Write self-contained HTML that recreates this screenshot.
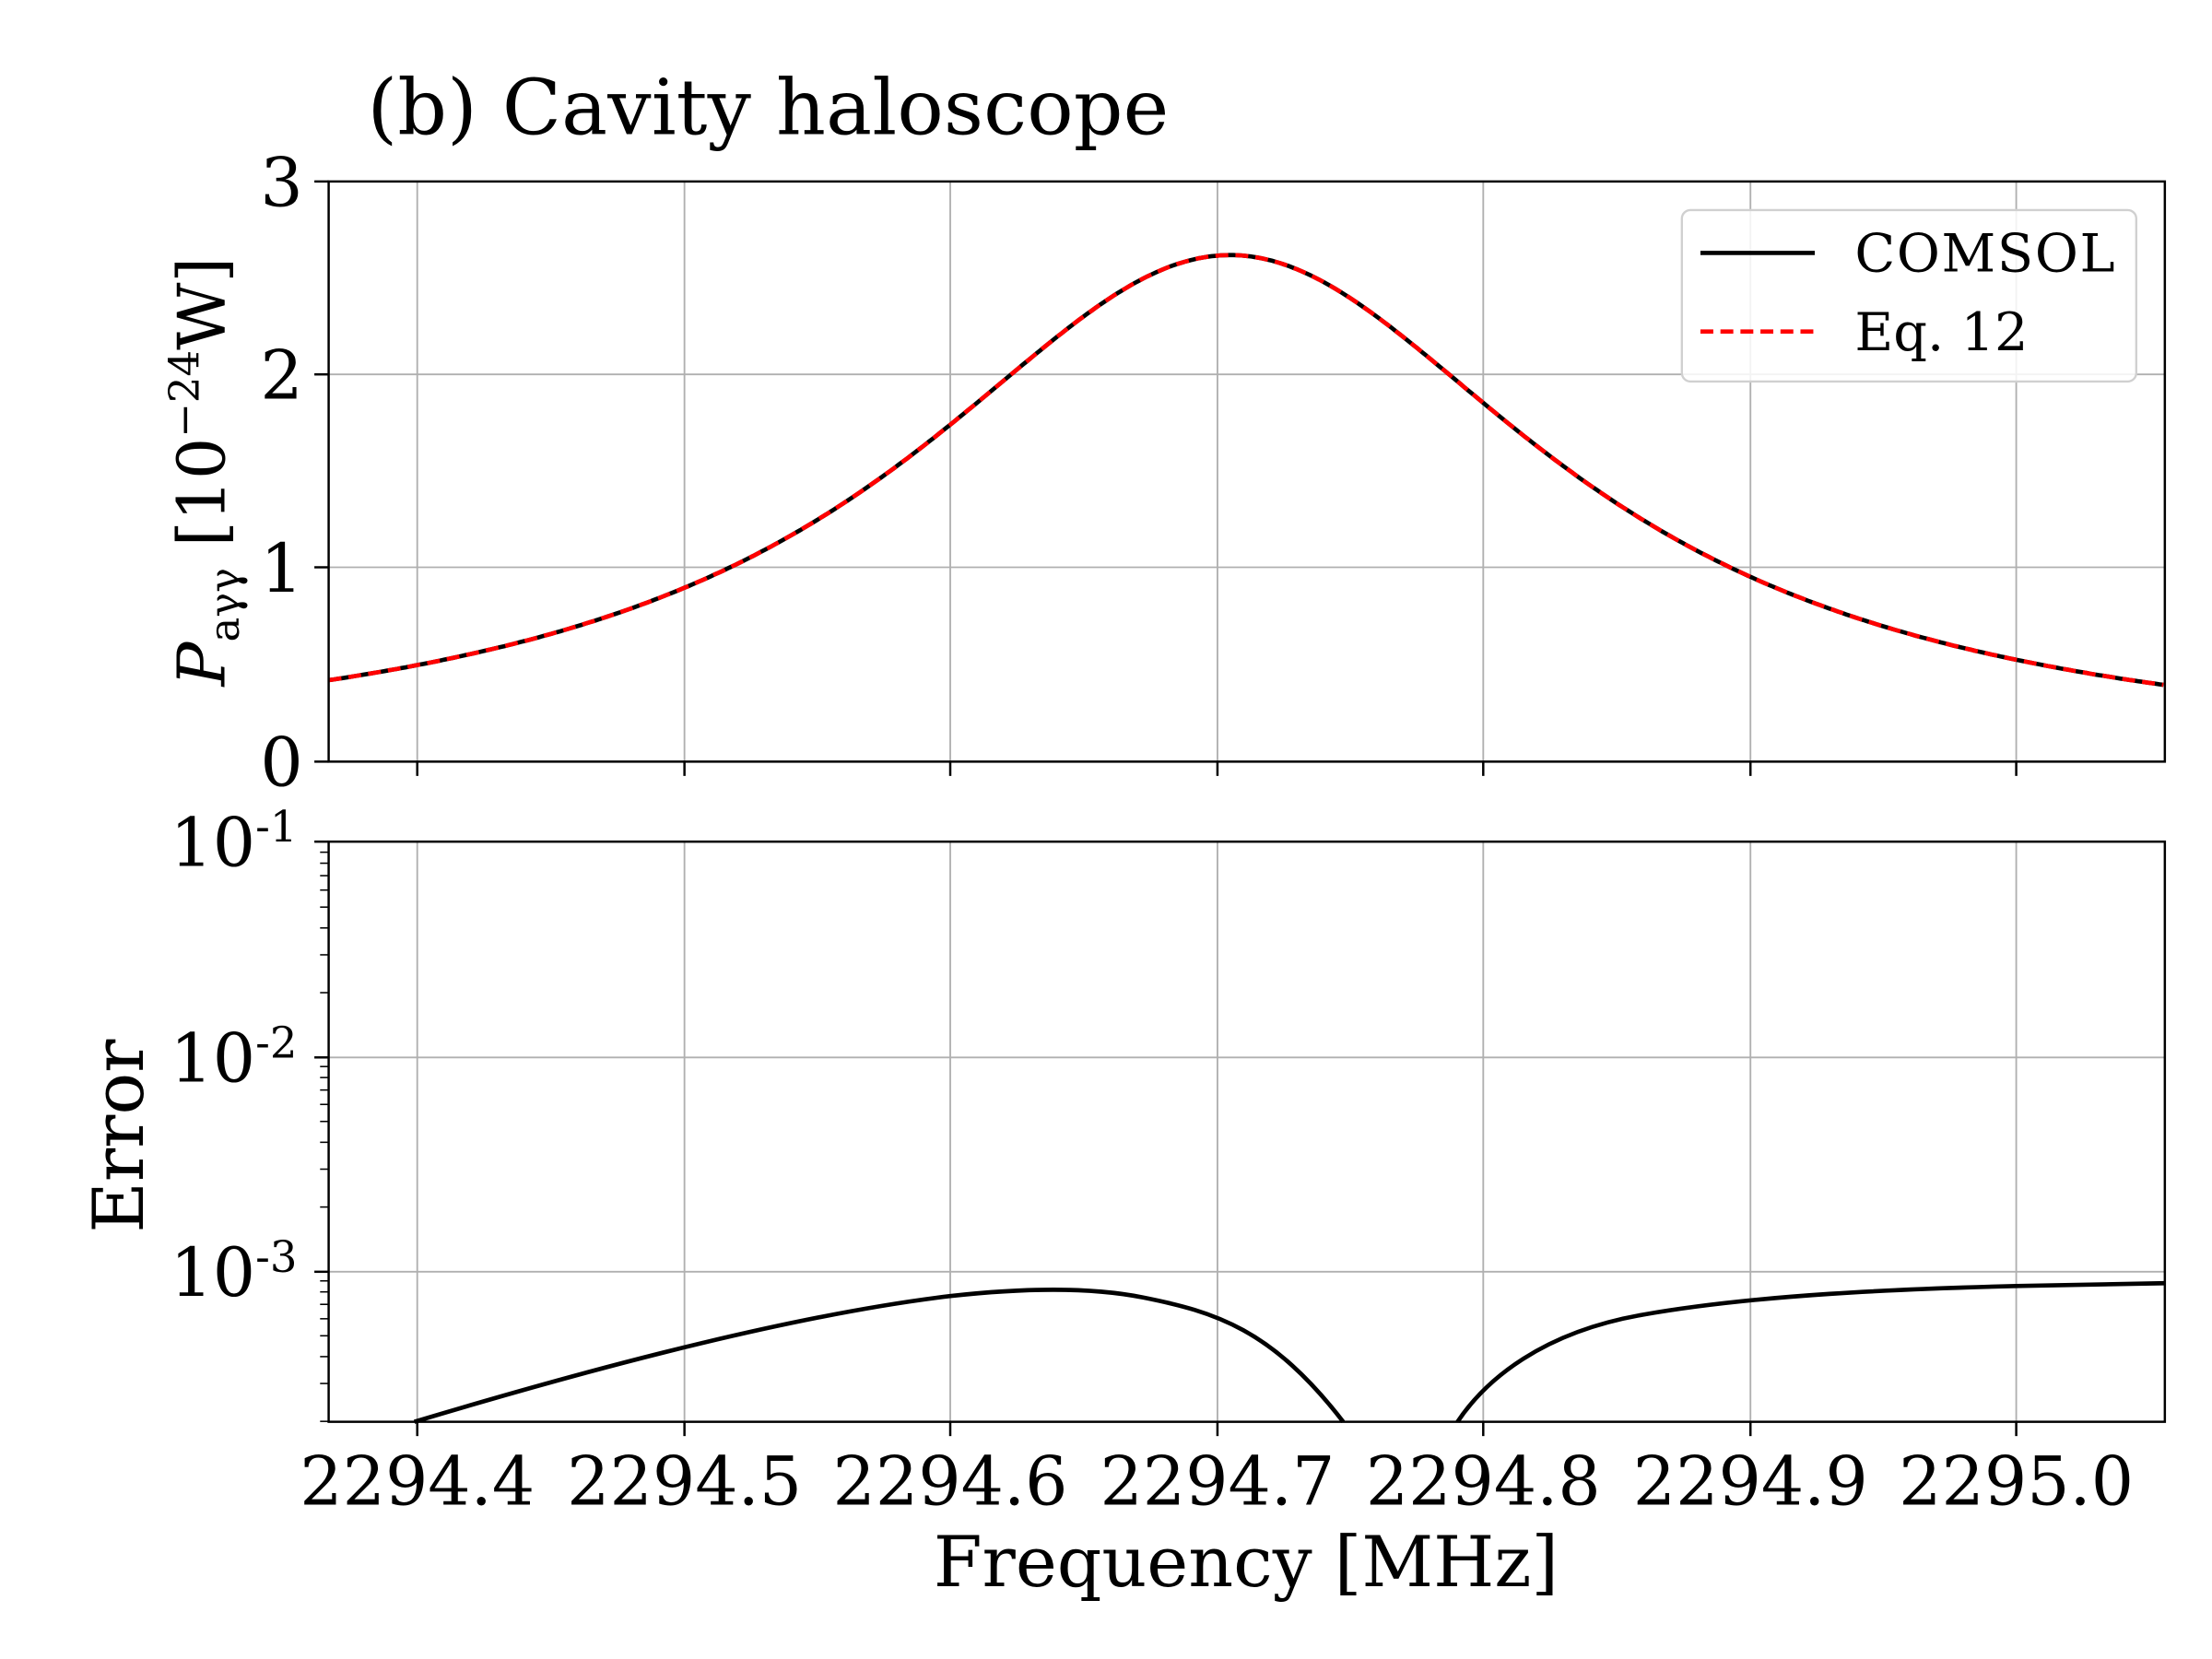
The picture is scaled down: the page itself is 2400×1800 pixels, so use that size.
<!DOCTYPE html>
<html><head><meta charset="utf-8"><style>html,body{margin:0;padding:0;background:#fff}svg{display:block}text{font-family:"DejaVu Serif","Liberation Serif",serif;fill:#000}</style></head>
<body>
<svg id="s" width="2400" height="1800" viewBox="0 0 1548 1161" preserveAspectRatio="none" xmlns="http://www.w3.org/2000/svg">
<g id="grid" stroke="#b0b0b0" stroke-width="1.2" fill="none"></g>
<path id="lor" fill="none" stroke="#000" stroke-width="3"/>
<path id="lor2" fill="none" stroke="#ff0000" stroke-width="3" stroke-dasharray="9,5"/>
<path d="M290,995 C380,968 540,922 665,907 C710,902 760,900 800,908 C850,918 890,930 940,995" fill="none" stroke="#000" stroke-width="3"/>
<path d="M1020,995 C1040,965 1080,932 1150,920 C1230,906 1330,902 1411,900 L1515,898" fill="none" stroke="#000" stroke-width="3"/>
<g id="ax" stroke="#000" stroke-width="1.6" fill="none">
<rect x="230" y="127" width="1285" height="406"/>
<rect x="230" y="589" width="1285" height="406"/>
</g>
<g id="ticks" stroke="#000" stroke-width="1.6"></g>
<g id="lbl" font-size="47"></g>
<rect x="1177" y="147" width="318" height="120" rx="6" fill="#fff" fill-opacity="0.85" stroke="#d0d0d0" stroke-width="1.5"/>
<line x1="1190" y1="177" x2="1270" y2="177" stroke="#000" stroke-width="3"/>
<line x1="1190" y1="232" x2="1270" y2="232" stroke="#ff0000" stroke-width="3" stroke-dasharray="9,5"/>
<text x="1298" y="190" font-size="37" textLength="182">COMSOL</text>
<text x="1298" y="245" font-size="37">Eq. 12</text>
<text x="257" y="94" font-size="54" textLength="561">(b) Cavity haloscope</text>
<text x="872" y="1110" font-size="49" text-anchor="middle">Frequency [MHz]</text>
<text transform="translate(100,795) rotate(-90)" font-size="49" text-anchor="middle">Error</text>
<text transform="translate(157,330) rotate(-90)" font-size="46" text-anchor="middle"><tspan font-style="italic">P</tspan><tspan font-size="29" dy="10">aγγ</tspan><tspan dy="-10"> [10</tspan><tspan font-size="29" dy="-18">−24</tspan><tspan dy="18">W]</tspan></text>
</svg>
<script>
var ns="http://www.w3.org/2000/svg",g=document.getElementById('grid'),t=document.getElementById('ticks'),l=document.getElementById('lbl');
function ln(p,a,b,c,d){var e=document.createElementNS(ns,'line');e.setAttribute('x1',a);e.setAttribute('y1',b);e.setAttribute('x2',c);e.setAttribute('y2',d);p.appendChild(e);}
function tx(x,y,s,anc,fs){var e=document.createElementNS(ns,'text');e.setAttribute('x',x);e.setAttribute('y',y);e.setAttribute('text-anchor',anc);if(fs)e.setAttribute('font-size',fs);e.innerHTML=s;l.appendChild(e);}
var xs=[292,479,665,852,1038,1225,1411],xl=['2294.4','2294.5','2294.6','2294.7','2294.8','2294.9','2295.0'];
xs.forEach(function(x,i){ln(g,x,127,x,533);ln(g,x,589,x,995);ln(t,x,533,x,543);ln(t,x,995,x,1005);tx(x,1053,xl[i],'middle');});
[127,262,397,533].forEach(function(y,i){ln(g,230,y,1515,y);ln(t,220,y,230,y);tx(212,y+17,String(3-i),'end');});
var dec=[589,740,890],dl=['-1','-2','-3'];
dec.forEach(function(y,i){if(i>0)ln(g,230,y,1515,y);ln(t,220,y,230,y);tx(208,y+17,'10<tspan font-size="30" dy="-17">'+dl[i]+'</tspan>','end');});
var base=[740,890,1040];base.forEach(function(b){for(var k=2;k<10;k++){var y=b-150.5*Math.log10(k);if(y>=589&&y<=996){var e=document.createElementNS(ns,'line');e.setAttribute('x1',224);e.setAttribute('y1',y);e.setAttribute('x2',230);e.setAttribute('y2',y);e.setAttribute('stroke-width','1');t.appendChild(e);}}});
var d='';for(var px=230;px<=1515;px+=3){var f=2294.4+(px-292)/1865,dd=(f-2294.705)/0.148,v=2.62/(1+dd*dd),y=533-v*135.3;d+=(px==230?'M':'L')+px+','+y.toFixed(1);}
document.getElementById('lor').setAttribute('d',d);document.getElementById('lor2').setAttribute('d',d);
</script>
</body></html>
